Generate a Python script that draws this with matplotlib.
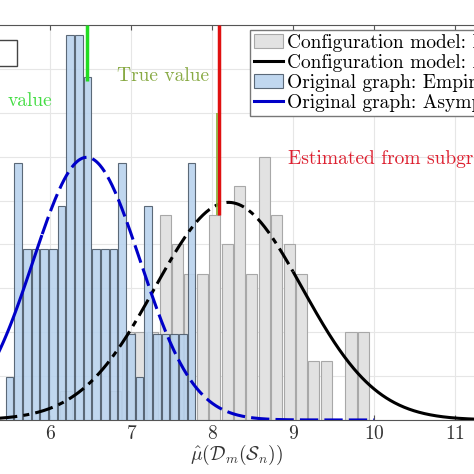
import numpy as np
import matplotlib.pyplot as plt
from matplotlib.patches import Rectangle

plt.rcParams['font.family'] = 'serif'
plt.rcParams['font.serif'] = ['cmr10', 'DejaVu Serif']
plt.rcParams['mathtext.fontset'] = 'cm'
plt.rcParams['axes.formatter.use_mathtext'] = True

# configuration model histogram (bin width 0.153)
cm_start = 6.125
cm_width = 0.153
cm_counts = [1, 0, 0, 0, 1, 3, 3, 3, 7, 6, 5, 5, 7, 6, 8, 5, 9, 7, 6, 5, 2, 2, 0, 3, 3]

# original graph histogram (bin width 0.107)
og_start = 5.449
og_width = 0.107
og_counts = [1, 6, 4, 4, 4, 4, 5, 9, 9, 8, 4, 4, 4, 6, 2, 1, 5, 2, 2, 2, 2, 6]
og_scale = 1.464

# asymptotic curves
cm_mu, cm_sigma, cm_peak = 8.2, 0.91, 7.44
og_mu, og_sigma, og_peak = 6.45, 0.66, 8.98

true_og = 6.45
true_cm = 8.06
est = 8.08

fig = plt.figure(figsize=(4.74, 4.74), dpi=100)
ax = fig.add_axes([0.0, 0.114, 1.0, 0.833])

cm_left = cm_start + cm_width * np.arange(len(cm_counts))
og_left = og_start + og_width * np.arange(len(og_counts))
ax.bar(cm_left, cm_counts, width=cm_width * 0.9, align='edge',
       color='#e2e2e2', edgecolor='#a8a8a8', linewidth=0.8, zorder=2,
       label='Configuration model: Empirical')
ax.bar(og_left, np.array(og_counts) * og_scale, width=og_width * 0.9, align='edge',
       color='#b9d3ee', edgecolor='#4d5b6a', linewidth=0.8, alpha=0.9, zorder=3,
       label='Original graph: Empirical')

x = np.linspace(5.3, 11.3, 600)
ycm = cm_peak * np.exp(-0.5 * ((x - cm_mu) / cm_sigma) ** 2)
ax.plot(x[x < 9.0], ycm[x < 9.0], 'k--', lw=2.2, dashes=(6, 2, 2, 2), zorder=4)
ax.plot(x[x >= 9.0], ycm[x >= 9.0], 'k-', lw=2.2, zorder=4)
xb = x[x <= 10.0]
yog = og_peak * np.exp(-0.5 * ((xb - og_mu) / og_sigma) ** 2)
ax.plot(xb[xb < 5.9], yog[xb < 5.9], '-', color='#0000c8', lw=2.2, zorder=4)
ax.plot(xb[xb >= 5.9], yog[xb >= 5.9], '--', color='#0000c8', lw=2.2, dashes=(6, 2), zorder=4)
ax.plot([], [], 'k-', lw=2.2, label='Configuration model: Asymptotic')
ax.plot([], [], '-', color='#0000c8', lw=2.2, label='Original graph: Asymptotic')

ax.vlines(true_og, 11.6, 13.5, color='#22dd22', lw=2.5, zorder=5)
ax.vlines(est, 7.0, 13.5, color='#e01010', lw=2.5, zorder=5)
ax.vlines(true_cm, 7.0, 10.5, color='#88aa33', lw=1.2, zorder=6)

ax.text(6.82, 11.6, 'True value', color='#88aa44', fontsize=14)
ax.text(5.47, 10.75, 'value', color='#44dd44', fontsize=14)
ax.text(8.93, 8.75, 'Estimated from subgraph', color='#dd2030', fontsize=14)

ax.set_xlim(5.38, 11.23)
ax.set_ylim(0, 13.5)
ax.set_xticks([6, 7, 8, 9, 10, 11])
ax.set_yticks(np.arange(0, 13.6, 1.5))
ax.set_yticklabels([])
ax.tick_params(axis='x', top=True, direction='in', labelsize=14, colors='#555555', labelcolor='#333333')
ax.tick_params(axis='y', length=0)
ax.grid(True, color='#e6e6e6', lw=0.8, zorder=0)
ax.set_axisbelow(True)
for s in ['left', 'right']:
    ax.spines[s].set_visible(False)
ax.spines['top'].set_color('#555555')
ax.spines['bottom'].set_color('#555555')
ax.set_xlabel(r'$\hat{\mu}(\mathcal{D}_m(\mathcal{S}_n))$', fontsize=14, labelpad=0, color='#333333')

h, l = ax.get_legend_handles_labels()
order = [l.index('Configuration model: Empirical'), l.index('Configuration model: Asymptotic'),
         l.index('Original graph: Empirical'), l.index('Original graph: Asymptotic')]
fig.legend([h[i] for i in order], [l[i] for i in order], loc='upper left',
           bbox_to_anchor=(250 / 474, 1 - 30 / 474), fontsize=14, fancybox=False,
           framealpha=1, edgecolor='#777777', handlelength=1.5, handletextpad=0.2,
           borderpad=0.2, labelspacing=0.1, borderaxespad=0)

fig.patches.append(Rectangle((-0.02, 1 - 66 / 474), 17 / 474 + 0.02, 26 / 474,
                             transform=fig.transFigure, fill=False, edgecolor='#444444', lw=1))

plt.savefig('out.png', dpi=100)
